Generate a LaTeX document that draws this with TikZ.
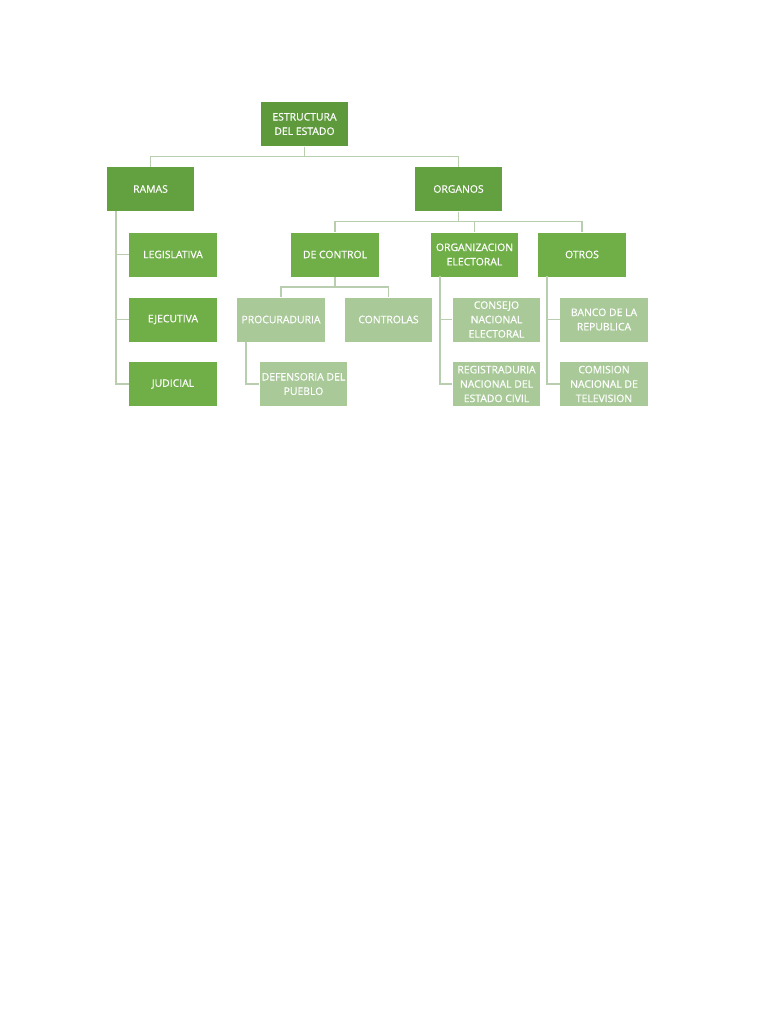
\documentclass[tikz,border=0pt]{standalone}
\usepackage{fontspec}
\setmainfont{Open Sans}
\newfontfamily\boxfont{Open Sans}[FakeBold=0.6]
\definecolor{topgreen}{RGB}{94,154,60}
\definecolor{midgreen}{RGB}{99,160,63}
\definecolor{lowgreen}{RGB}{112,174,72}
\definecolor{palegreen}{RGB}{169,202,152}
\definecolor{linkgreen}{RGB}{184,206,174}
\tikzset{every picture/.style={line width=0.75pt}}
\tikzset{
  box/.style={draw=none,minimum width=65.5pt,minimum height=33pt,inner sep=0.75pt,align=center,text=white,font=\boxfont\fontsize{7.8}{10.8}\selectfont},
  topbox/.style={box,fill=topgreen},
  midbox/.style={box,fill=midgreen},
  lowbox/.style={box,fill=lowgreen},
  palebox/.style={box,fill=palegreen},
  link/.style={draw=linkgreen,line width=1pt}
}
\begin{document}
\begin{tikzpicture}[x=0.75pt,y=0.75pt,yscale=-1,xscale=1]
    \useasboundingbox (0,0) rectangle (768,1024);
    \fill[white] (0,0) rectangle (768,1024);

    % Text Node
    \node [topbox] (estado) at (304.5,124) {ESTRUCTURA\\DEL ESTADO};
    % Text Node
    \node [midbox] (ramas) at (150.5,189) {RAMAS};
    % Text Node
    \node [midbox] (organos) at (458.5,189) {ORGANOS};

    % Text Node
    \node [lowbox] (legislativa) at (173,254.5) {LEGISLATIVA};
    % Text Node
    \node [lowbox] (ejecutiva) at (173,319.5) {EJECUTIVA};
    % Text Node
    \node [lowbox] (judicial) at (173,384) {JUDICIAL};

    % Text Node
    \node [lowbox] (control) at (335,254.5) {DE CONTROL};
    % Text Node
    \node [lowbox] (electoral) at (474.5,254.5) {ORGANIZACION\\ELECTORAL};
    % Text Node
    \node [lowbox] (otros) at (582,254.5) {OTROS};

    % Text Node
    \node [palebox] (procuraduria) at (281,319.5) {PROCURADURIA};
    % Text Node
    \node [palebox] (controlas) at (388.5,319.5) {CONTROLAS};
    % Text Node
    \node [palebox] (defensoria) at (303.5,384) {DEFENSORIA DEL\\PUEBLO};
    % Text Node
    \node [palebox] (consejo) at (496.5,319.5) {CONSEJO\\NACIONAL\\ELECTORAL};
    % Text Node
    \node [palebox] (registraduria) at (496.5,384) {REGISTRADURIA\\NACIONAL DEL\\ESTADO CIVIL};
    % Text Node
    \node [palebox] (banco) at (604,319.5) {BANCO DE LA\\REPUBLICA};
    % Text Node
    \node [palebox] (comision) at (604,384) {COMISION\\NACIONAL DE\\TELEVISION};

    %Straight Lines: estructura bus
    \coordinate (estadobus) at (304.5,156.5);
    \draw [link] (estado.south) -- (estadobus) -| (ramas.north);
    \draw [link] (estadobus) -| (organos.north);
    %Straight Lines: ramas bus
    \coordinate (ramasbus) at (116,211);
    \draw [link] (ramasbus) |- (legislativa.west);
    \draw [link] (ramasbus) |- (ejecutiva.west);
    \draw [link] (ramasbus) |- (judicial.west);
    %Straight Lines: organos bus
    \coordinate (organosbus) at (458.5,221.5);
    \draw [link] (organos.south) -- (organosbus) -| (control.north);
    \draw [link] (organosbus) -| (electoral.north);
    \draw [link] (organosbus) -| (otros.north);
    %Straight Lines: control bus
    \coordinate (controlbus) at (335,287);
    \draw [link] (control.south) -- (controlbus) -| (procuraduria.north);
    \draw [link] (controlbus) -| (controlas.north);
    %Straight Lines: side buses
    \coordinate (procubus) at (246,341.5);
    \draw [link] (procubus) |- (defensoria.west);
    \coordinate (electoralbus) at (440,276);
    \draw [link] (electoralbus) |- (consejo.west);
    \draw [link] (electoralbus) |- (registraduria.west);
    \coordinate (otrosbus) at (547,276);
    \draw [link] (otrosbus) |- (banco.west);
    \draw [link] (otrosbus) |- (comision.west);

\end{tikzpicture}
\end{document}
